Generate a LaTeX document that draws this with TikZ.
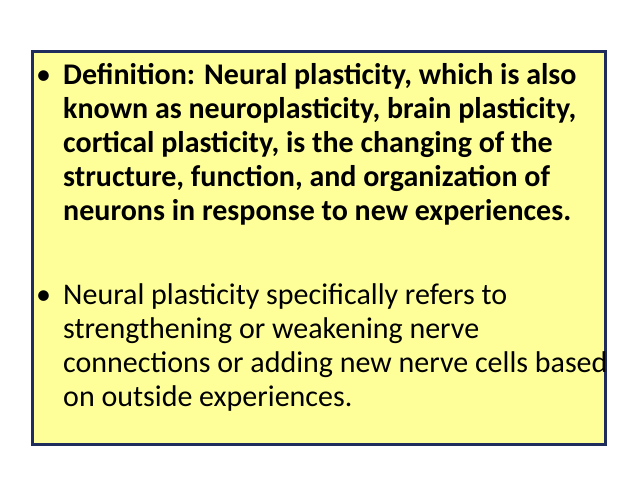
\documentclass[tikz,border=0pt]{standalone}
\usepackage{fontspec}
\setmainfont{Carlito}
\definecolor{boxfill}{HTML}{FFFF99}
\definecolor{boxline}{HTML}{1F2D5C}
\tikzset{para/.style={anchor=north west,align=left,inner sep=0pt,font=\fontsize{30}{34}\selectfont},
bul/.style={anchor=base west,inner sep=0pt,font=\fontsize{30}{34}\selectfont}}
\begin{document}
\begin{tikzpicture}[x=1pt,y=1pt]
\useasboundingbox (0,0) rectangle (638,478);
\node[draw=boxline,line width=3pt,fill=boxfill,minimum width=573pt,minimum height=393pt,anchor=north west] (box) at (31,428) {};
\node[bul] (b1) at (36,393) {•};
\node[para] (p1) at (63,415) {\textbf{Definition: Neural plasticity, which is also}\\\textbf{known as neuroplasticity, brain plasticity,}\\\textbf{cortical plasticity, is the changing of the}\\\textbf{structure, function, and organization of}\\\textbf{neurons in response to new experiences.}};
\node[bul] (b2) at (36,173) {•};
\node[para] (p2) at (63,195) {Neural plasticity specifically refers to\\strengthening or weakening nerve\\connections or adding new nerve cells based\\on outside experiences.};
\end{tikzpicture}
\end{document}
